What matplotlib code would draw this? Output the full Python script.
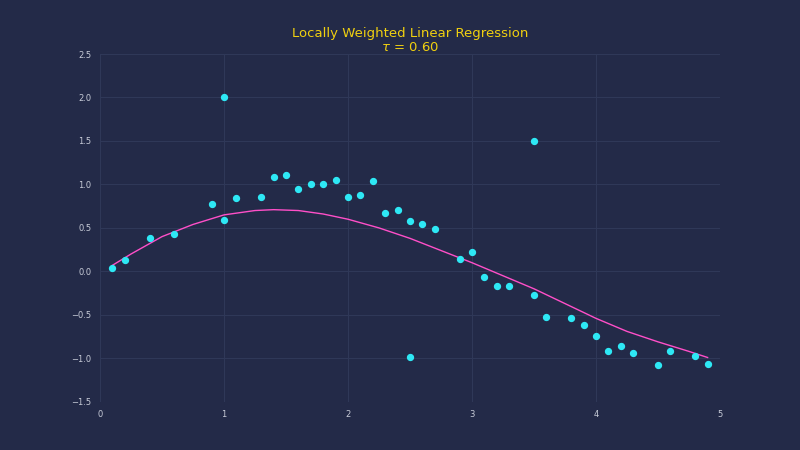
import matplotlib
matplotlib.use("Agg")
import matplotlib.pyplot as plt

# scatter data
x_pts = [0.1, 0.2, 0.4, 0.6, 0.9, 1.0, 1.0, 1.1, 1.3, 1.4, 1.5, 1.6, 1.7, 1.8, 1.9, 2.0, 2.1,
         2.2, 2.3, 2.4, 2.5, 2.5, 2.6, 2.7, 2.9, 3.0, 3.1, 3.2, 3.3, 3.5, 3.5, 3.6, 3.8, 3.9,
         4.0, 4.1, 4.2, 4.3, 4.5, 4.6, 4.8, 4.9]
y_pts = [0.04, 0.13, 0.38, 0.43, 0.77, 2.0, 0.59, 0.84, 0.85, 1.08, 1.11, 0.95, 1.01, 1.0,
         1.05, 0.85, 0.88, 1.04, 0.67, 0.71, 0.58, -0.99, 0.54, 0.49, 0.14, 0.22, -0.07,
         -0.17, -0.17, 1.5, -0.27, -0.52, -0.54, -0.62, -0.74, -0.92, -0.86, -0.94, -1.08,
         -0.91, -0.97, -1.07]

x_fit = [0.1, 0.25, 0.5, 0.75, 1.0, 1.25, 1.4, 1.6, 1.8, 2.0, 2.25, 2.5, 2.75, 3.0, 3.25,
         3.5, 3.75, 4.0, 4.25, 4.5, 4.75, 4.9]
y_fit = [0.07, 0.2, 0.4, 0.54, 0.65, 0.7, 0.71, 0.7, 0.66, 0.6, 0.5, 0.38, 0.24, 0.1, -0.05,
         -0.2, -0.37, -0.54, -0.69, -0.81, -0.92, -0.99]

bg = "#232a48"
fig = plt.figure(figsize=(8, 4.5), dpi=100, facecolor=bg)
ax = fig.add_axes([0.125, 0.107, 0.775, 0.773], facecolor=bg)
ax.scatter(x_pts, y_pts, s=18, color="#2ee8f5", zorder=3)
ax.plot(x_fit, y_fit, color="#ff4fc8", lw=1.0, zorder=2)
ax.set_xlim(0, 5)
ax.set_ylim(-1.5, 2.5)
ax.set_xticks([0, 1, 2, 3, 4, 5])
ax.set_yticks([-1.5, -1.0, -0.5, 0.0, 0.5, 1.0, 1.5, 2.0, 2.5])
ax.set_yticklabels(["\u22121.5", "\u22121.0", "\u22120.5", "0.0", "0.5", "1.0", "1.5", "2.0", "2.5"])
ax.grid(color="#2f3858", lw=0.8)
ax.tick_params(colors="#c8ccd8", labelsize=6, length=0, pad=6)
for s in ax.spines.values():
    s.set_visible(False)
ax.set_title("Locally Weighted Linear Regression\n$\\tau$ = 0.60", color="#f0d010", fontsize=9.5,
             pad=1, linespacing=1.1)
fig.savefig("out.png", facecolor=bg)
